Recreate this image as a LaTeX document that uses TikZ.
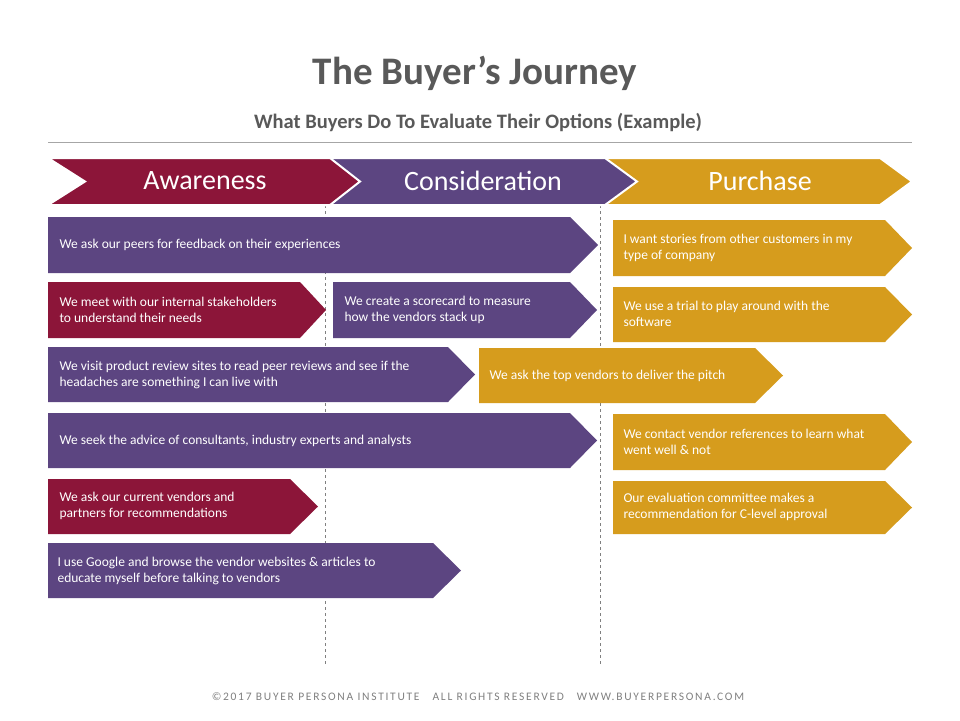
\documentclass[tikz,border=0pt]{standalone}
\usepackage{fontspec}
\setmainfont{Carlito}
\definecolor{aw}{HTML}{8C1539}
\definecolor{co}{HTML}{5C4581}
\definecolor{pu}{HTML}{D69C1D}
\definecolor{tx}{HTML}{595959}
\tikzset{
 lbl/.style={font=\fontsize{13.5}{16.5}\selectfont,text=white,align=left,anchor=west},
 hd/.style={font=\fontsize{28}{30}\selectfont,text=white},
}
\newcommand{\arr}[6]{% x1 y1 x2 y2 tipx color
 \fill[#6] (#1,#2) -- (#3,#2) -- (#5,{(#2+#4)/2}) -- (#3,#4) -- (#1,#4) -- cycle;}
\newcommand{\chev}[5]{% x1 notch x2 tip color
 \fill[#5,draw=white,line width=2pt] (#1,158) -- (#3,158) -- (#4,181.5) -- (#3,205) -- (#1,205) -- (#2,181.5) -- cycle;}
\begin{document}
\begin{tikzpicture}[x=1pt,y=-1pt]
\useasboundingbox[fill=white] (0,0) rectangle (960,720);
\node[font=\bfseries\fontsize{39}{42}\selectfont,text=tx] (title) at (475,73) {The Buyer’s Journey};
\node[font=\bfseries\fontsize{20.5}{23}\selectfont,text=tx] (sub) at (478,123) {What Buyers Do To Evaluate Their Options (Example)};
\draw[gray!70,line width=0.8pt] (48,142) -- (912,142);
\draw[gray,dashed,line width=0.6pt] (325,205) -- (325,665);
\draw[gray,dashed,line width=0.6pt] (600,205) -- (600,665);
\chev{603}{635}{880}{912}{pu}
\chev{325}{357}{605}{637}{co}
\chev{48}{85}{330}{360}{aw}
\node[hd] (h1) at (205,181) {Awareness};
\node[hd] (h2) at (483,181) {Consideration};
\node[hd] (h3) at (760,181) {Purchase};
\arr{48}{217}{570}{273}{598}{co}
\node[lbl] (r1) at (56,245) {We ask our peers for feedback on their experiences};
\arr{48}{282}{300}{338}{326}{aw}
\node[lbl] (r2) at (56,310) {We meet with our internal stakeholders\\to understand their needs};
\arr{333}{282}{570}{338}{597}{co}
\node[lbl] (r3) at (341,310) {We create a scorecard to measure\\how the vendors stack up};
\arr{48}{347}{448}{402}{475}{co}
\node[lbl] (r4) at (56,375) {We visit product review sites to read peer reviews and see if the\\headaches are something I can live with};
\arr{479}{348}{755}{403}{783}{pu}
\node[lbl] (r5) at (486,376) {We ask the top vendors to deliver the pitch};
\arr{48}{413}{570}{468}{597}{co}
\node[lbl] (r6) at (56,441) {We seek the advice of consultants, industry experts and analysts};
\arr{48}{479}{290}{534}{318}{aw}
\node[lbl] (r7) at (56,506) {We ask our current vendors and\\partners for recommendations};
\arr{48}{543}{433}{598}{461}{co}
\node[lbl] (r8) at (54,571) {I use Google and browse the vendor websites \& articles to\\educate myself before talking to vendors};
\arr{613}{220}{885}{276}{912}{pu}
\node[lbl] (p1) at (620,248) {I want stories from other customers in my\\type of company};
\arr{613}{287}{885}{342}{912}{pu}
\node[lbl] (p2) at (620,314) {We use a trial to play around with the\\software};
\arr{613}{414}{885}{470}{912}{pu}
\node[lbl] (p3) at (620,442) {We contact vendor references to learn what\\went well \& not};
\arr{613}{481}{885}{534}{912}{pu}
\node[lbl] (p4) at (620,507) {Our evaluation committee makes a\\recommendation for C-level approval};
\node[font=\fontsize{11.5}{13}\selectfont\addfontfeatures{LetterSpace=15},text=gray] (foot) at (478,697) {©2017 BUYER PERSONA INSTITUTE \ \ ALL RIGHTS RESERVED \ \ WWW.BUYERPERSONA.COM};
\end{tikzpicture}
\end{document}
